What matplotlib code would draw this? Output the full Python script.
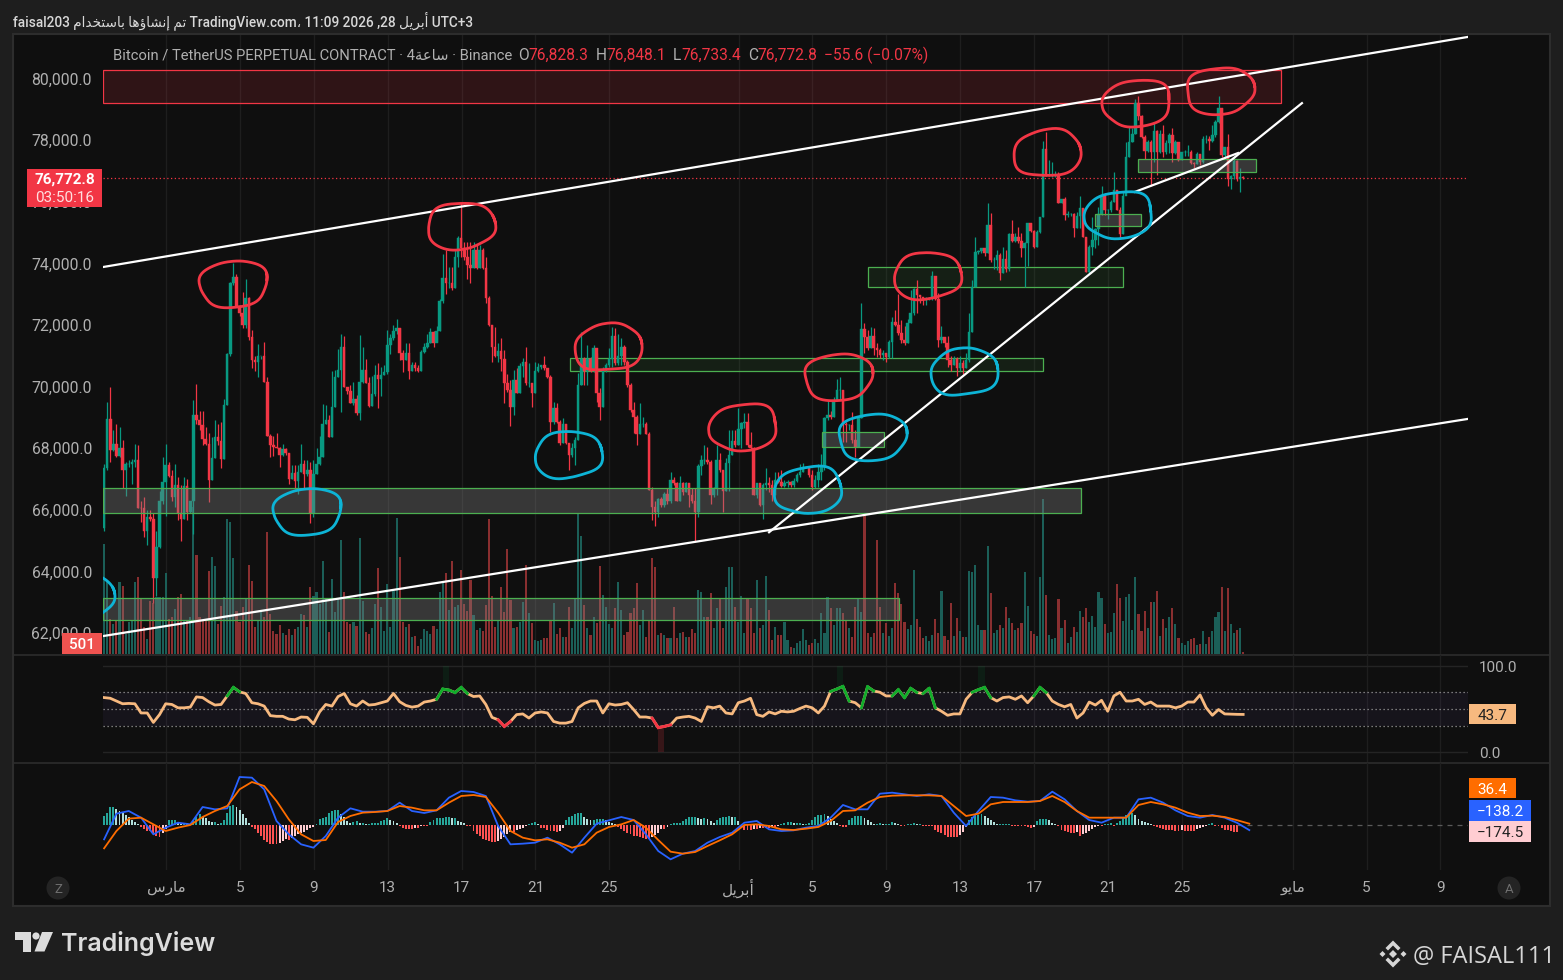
"""BTCUSDT.P 4h chart with hand drawn trend lines, zones and circles, RSI and MACD panes."""
import numpy as np
import matplotlib
matplotlib.use("Agg")
from matplotlib import pyplot as plt
from matplotlib.patches import Rectangle, Polygon, Circle

plt.rcParams["font.family"] = ["Roboto", "DejaVu Sans"]

BG, OUTER, FRAME, GRID = "#0f0f0f", "#1e1e1e", "#2d2d2d", "#1e1e1e"
UP_C, DOWN_C = "#089981", "#f23645"
VOL_UP_C, VOL_DOWN_C = "#1b5f58", "#8a2f30"
TEXT_C = "#b0b0b0"
W, H = 1563, 980

# ---- price, thousands of USDT per 4h bar ----
first_open = 65.4
closes = [
    67.34,68.96,67.93,68.15,67.74,68.0,67.3,67.5,67.5,67.55,
    67.6,66.06,66.05,65.32,65.77,65.7,63.77,64.78,66.3,
    66.9,67.45,67.1,66.4,66.8,65.9,65.7,66.76,65.93,66.3,
    69.07,68.9,68.75,68.3,68.15,66.96,67.67,68.37,68.24,67.64,
    69.4,71.05,73.36,73.55,72.6,72.4,72.0,72.87,71.6,70.85,
    70.8,71.0,71.0,70.15,68.4,68.1,68.05,68.02,67.77,67.97,
    67.83,67.0,67.2,66.94,67.24,67.48,67.15,67.28,65.9,67.15,
    67.47,67.7,68.8,68.93,68.35,69.34,70.3,70.55,71.27,69.97,
    69.85,69.45,69.58,69.13,70.15,70.55,70.12,69.36,69.75,70.37,
    70.23,70.37,70.48,71.34,71.56,71.8,71.9,71.09,70.86,71.1,
    70.5,70.7,70.6,70.5,71.13,71.27,71.4,71.77,71.4,71.8,72.77,
    73.52,73.35,73.35,73.2,74.2,74.82,74.5,74.2,73.95,73.85,
    74.43,73.85,74.43,73.85,72.87,72.0,
    71.3,71.0,71.17,70.9,70.1,69.9,69.35,70.2,69.8,70.67,
    70.8,70.1,70.1,69.8,70.5,70.65,70.7,70.6,70.32,
    68.86,69.3,68.86,68.16,68.8,68.16,67.78,68.0,68.27,70.05,
    70.9,70.5,70.9,70.5,71.24,69.8,69.33,70.54,70.7,
    70.9,71.64,70.76,71.0,71.3,70.8,70.05,69.24,69.02,68.46,
    68.78,68.78,68.46,66.64,66.08,65.94,66.34,66.15,66.5,66.27,
    66.97,66.86,66.3,66.86,66.59,66.86,66.48,66.3,65.94,67.42,
    67.6,67.63,67.56,66.48,66.7,67.63,67.3,66.62,67.53,67.78,
    68.24,68.1,68.61,68.83,68.86,68.1,68.0,66.48,66.86,66.16,
    66.8,66.86,66.8,66.48,66.96,66.9,66.77,66.86,66.9,66.8,
    66.95,67.13,67.24,67.4,67.4,67.13,66.73,66.97,67.24,67.4,
    68.97,69.08,69.0,69.56,69.9,69.9,68.8,68.74,68.74,68.27,
    68.05,68.97,71.86,
    71.62,71.24,71.64,71.24,71.2,71.02,71.08,70.97,71.46,72.1,
    72.0,71.73,71.5,71.4,72.05,72.38,73.16,72.97,72.9,72.8,
    72.86,72.86,73.6,72.83,71.5,71.62,71.4,70.86,70.7,70.9,
    70.6,70.75,70.6,70.85,71.78,73.24,74.38,74.4,74.5,74.33,
    75.25,74.1,74.1,74.27,73.68,74.13,73.8,74.95,74.72,74.87,
    74.72,74.5,74.65,75.3,75.06,74.54,75.03,75.5,77.7,76.85,
    76.85,76.85,76.85,75.97,76.08,75.57,75.6,75.6,75.16,75.54,
    75.8,74.87,73.73,74.54,74.76,75.1,75.6,76.2,75.73,75.73,
    76.0,76.38,75.73,74.95,76.2,77.46,77.95,78.2,79.2,78.78,
    78.1,77.66,77.95,77.6,78.3,77.62,78.2,77.62,77.9,78.17,
    77.57,77.95,77.35,77.6,77.6,77.6,77.25,77.22,77.55,77.3,
    78.03,78.03,77.97,78.17,78.6,79.03,77.52,77.77,76.73,76.83,
    77.33,76.73,76.8,76.77,
]
highs = [
    67.5,69.5,70.0,68.6,68.8,68.7,68.26,67.55,67.6,67.65,
    68.15,68.1,66.3,66.4,66.0,66.0,65.9,65.3,66.6,
    67.7,68.15,67.55,67.3,67.5,67.05,66.8,67.07,67.0,66.3,
    69.56,70.07,69.2,69.2,68.7,68.5,68.37,68.93,68.8,68.85,
    69.6,71.1,73.4,74.02,73.65,72.65,73.06,73.5,72.9,71.83,
    71.0,71.37,71.0,71.45,70.3,68.45,68.4,68.5,68.05,68.15,
    68.0,67.85,67.45,67.45,67.45,68.15,67.6,67.6,67.55,67.6,
    68.0,68.4,69.43,69.4,69.07,70.5,70.53,71.23,71.7,71.64,
    69.97,70.05,70.15,69.72,71.67,71.3,70.9,70.3,70.35,70.7,
    70.75,70.64,70.7,71.85,71.7,72.0,72.2,71.9,71.2,71.4,
    71.4,70.8,70.8,70.7,71.2,71.4,71.7,71.9,71.8,71.95,72.85,
    74.3,74.43,73.88,73.88,74.43,74.9,76.0,74.7,74.7,74.7,
    74.7,74.6,74.6,74.5,74.2,72.95,
    72.0,71.94,71.4,71.57,71.2,70.4,70.2,70.54,70.6,70.75,
    70.92,71.3,70.75,70.1,70.8,70.75,70.7,71.0,70.6,
    70.37,69.5,69.45,68.9,68.97,68.8,68.16,68.16,68.37,70.43,
    71.78,70.97,71.35,70.97,71.35,71.1,69.94,70.65,70.75,
    71.24,71.94,71.9,71.7,71.56,71.35,70.85,70.1,69.5,69.07,
    69.45,69.02,68.86,68.54,66.75,66.3,66.37,66.42,66.59,66.7,
    67.24,67.07,66.91,67.1,66.91,66.91,66.86,66.7,66.7,67.5,
    67.78,68.1,68.05,67.6,66.75,68.1,67.83,67.3,67.67,68.6,
    68.6,68.6,69.3,68.86,69.13,69.13,68.54,68.05,66.86,66.86,
    66.86,67.35,67.07,66.97,67.24,67.24,67.3,66.97,66.97,66.95,
    67.02,67.18,67.5,67.53,67.4,67.4,67.3,67.13,67.5,67.8,
    69.02,69.56,69.2,69.67,70.24,70.3,69.9,68.86,68.8,69.18,
    68.6,68.97,72.7,
    72.05,71.85,71.94,71.9,71.4,71.24,71.2,71.1,71.5,72.27,
    72.5,73.0,72.15,71.95,72.2,73.13,73.2,73.46,72.97,72.9,
    72.9,72.92,73.76,73.6,73.03,71.95,71.62,71.63,71.0,71.0,
    70.95,71.0,70.85,71.1,72.38,73.46,74.87,74.43,74.5,74.5,
    75.97,75.64,74.2,74.43,74.35,74.54,74.43,75.0,75.4,75.0,
    75.19,75.0,74.7,75.32,75.3,75.08,75.08,75.5,77.97,78.27,
    77.35,77.3,77.0,76.98,76.1,76.16,75.7,75.62,75.62,75.68,
    76.18,75.8,74.87,74.6,75.5,75.15,75.84,76.5,76.27,75.75,
    76.05,76.97,76.38,75.84,76.32,77.95,78.44,78.38,79.35,79.43,
    78.82,78.17,78.0,78.0,78.6,78.33,78.33,78.5,78.0,78.22,
    78.38,78.0,77.68,77.62,77.68,77.84,77.68,77.3,77.6,77.55,
    78.12,78.17,78.12,78.5,78.65,79.43,79.05,77.79,78.2,76.87,
    77.46,77.35,77.1,76.85,
]
lows = [
    65.3,67.3,67.55,67.9,67.7,67.7,66.7,66.45,67.4,66.85,
    67.4,66.05,65.6,65.1,64.85,65.65,62.96,63.2,64.75,
    66.2,65.8,67.05,66.3,66.1,65.66,65.0,65.7,65.66,65.9,
    65.2,68.8,68.6,68.1,68.1,66.26,66.96,67.67,68.1,67.34,
    67.64,69.4,71.0,73.3,72.58,72.3,71.9,71.9,71.5,70.6,
    70.5,70.3,70.9,70.15,68.4,67.7,67.75,68.0,67.4,67.75,
    67.77,66.83,67.0,66.66,66.5,67.24,66.7,67.1,65.58,65.77,
    67.15,67.45,67.7,68.8,68.35,68.35,69.34,70.3,69.18,69.97,
    69.75,69.45,69.4,69.07,68.9,70.1,70.1,69.33,69.36,69.7,
    69.3,69.7,70.37,70.42,71.07,71.5,71.7,70.85,70.48,70.86,
    70.26,70.5,70.5,70.48,70.5,71.1,71.25,71.4,71.3,71.45,71.8,
    72.7,73.0,73.2,73.13,73.2,73.87,74.2,74.1,73.5,73.36,
    73.85,73.8,73.85,73.8,72.7,71.95,
    70.8,70.97,70.8,70.5,69.45,69.83,68.72,69.08,69.78,69.8,
    70.32,70.05,70.0,69.35,69.78,70.48,70.58,70.55,70.27,
    68.54,68.8,68.83,68.1,68.16,68.13,67.3,67.7,67.45,68.27,
    70.05,70.05,70.05,70.48,70.48,69.5,68.9,69.33,70.48,
    70.65,70.65,70.7,70.7,70.7,70.7,69.99,69.18,68.5,68.1,
    68.46,68.7,68.46,66.64,65.67,65.48,65.78,66.1,66.1,66.2,
    66.21,66.8,66.27,66.27,66.48,66.59,66.1,66.21,64.97,65.78,
    67.13,67.5,67.5,66.2,66.43,66.48,67.24,65.94,66.62,66.62,
    67.78,68.05,68.1,68.0,68.65,68.05,67.94,66.48,66.37,66.12,
    65.7,66.64,66.59,66.3,66.48,66.86,66.75,66.75,66.75,66.75,
    66.75,66.9,67.07,67.24,67.35,67.07,66.64,66.7,66.75,66.97,
    67.3,68.9,68.95,69.0,69.56,69.56,68.2,68.2,68.6,68.16,
    67.72,68.05,68.97,
    71.08,71.2,71.24,71.02,70.97,70.92,70.85,70.8,70.92,70.92,
    71.95,71.67,71.4,71.35,71.4,72.05,72.32,72.38,72.7,72.65,
    72.65,72.8,72.8,72.8,71.3,71.4,71.3,70.65,70.5,70.7,
    70.35,70.5,70.4,70.6,70.8,71.78,73.24,74.3,74.35,74.25,
    74.33,74.05,73.8,73.78,73.46,73.68,73.73,73.76,74.7,74.7,
    74.65,74.2,73.24,73.9,75.03,74.49,74.52,75.0,75.5,76.82,
    76.83,76.8,76.8,75.95,75.95,75.4,75.5,75.55,74.87,75.14,
    75.14,74.87,73.73,73.67,74.27,74.5,74.6,75.57,75.57,75.43,
    75.67,76.0,75.73,74.78,74.95,76.32,77.46,77.95,78.2,78.65,
    78.06,77.4,77.62,76.5,77.3,76.87,77.57,77.46,77.55,77.57,
    77.3,77.55,77.33,77.35,77.5,77.5,77.22,77.1,77.22,77.2,
    77.25,77.9,77.68,77.95,78.1,78.55,77.46,77.4,76.5,76.4,
    76.75,76.68,76.33,76.73,
]
# volume, in units of 250 contracts
volumes = [
    110,72,35,30,33,72,68,20,32,33,72,77,55,27,15,53,51,57,57,57,81,35,37,45,57,60,34,33,37,147,
    99,37,33,35,83,97,88,30,48,57,135,132,96,43,32,47,55,89,73,27,33,42,37,122,40,23,20,29,21,19,
    25,19,25,27,40,39,27,67,58,62,50,93,55,22,75,42,55,114,62,32,30,32,28,116,53,22,20,26,50,86,
    47,23,70,27,63,136,97,32,27,30,17,18,8,15,25,23,20,28,25,62,71,81,44,93,47,49,84,50,43,74,
    39,24,26,23,49,135,58,27,33,
    67,42,105,54,26,27,32,52,89,41,31,14,13,14,16,16,34,51,20,26,17,17,47,26,56,141,118,49,26,19,
    37,31,88,59,47,30,26,46,72,44,19,22,41,46,71,29,44,17,33,96,87,19,21,19,16,16,47,16,21,22,
    17,17,25,21,64,62,37,37,61,26,46,56,26,67,87,87,47,32,58,21,56,46,21,74,26,29,78,44,14,27,
    19,19,32,14,7,6,11,13,25,14,9,11,15,11,41,21,57,46,29,46,46,41,34,26,17,47,55,42,141,21,
    17,21,114,47,21,31,
    18,26,71,61,50,32,25,29,84,35,27,16,18,13,19,35,21,63,18,14,51,18,36,23,17,17,83,82,89,29,
    24,24,108,61,21,24,29,26,47,36,31,24,26,31,82,48,23,20,18,77,155,59,19,15,16,55,26,34,11,17,
    27,22,43,37,46,32,38,27,62,56,30,21,22,41,70,56,33,57,60,24,77,40,23,43,26,52,52,63,18,35,
    26,37,46,30,16,11,9,13,15,16,9,10,23,10,17,23,37,42,67,23,66,30,21,24,26,2,
]
# RSI, one reading every second bar
rsi_values = [
    63.3,62.5,59.3,56.1,56.5,56.1,45.4,45.4,34.4,43.5,56.1,55.3,51.4,51.4,52.2,64.1,63.3,58.5,54.6,55.3,
    65.2,75.1,70,68,57.3,56.1,53.4,42.3,41.5,41.5,38.3,37.5,40.7,40.3,32.8,46.6,55.3,53.4,64.5,68,
    56.1,53.4,59.3,54.6,55.3,57.3,59.3,68,58.5,54.2,52.2,53.4,58.1,59.3,61.3,73.2,72,69.2,75.1,68,
    64.5,65.2,55.3,40.3,37.5,29.8,35.5,43.5,44.3,39.5,45.4,46.6,45.4,35.5,33.6,33.6,35.5,51.4,56.5,59.3,
    59.3,45.4,56.1,54.6,55.3,57.3,49.4,40.7,40.7,39.5,28.4,29.8,31.6,39.5,40.7,41.5,39.5,35.5,52.6,51.4,
    53.4,45.4,44.3,57.3,59.3,62.5,43.5,41.5,46.6,44.3,47.4,46.6,47.4,50.6,53.4,51.4,45.4,53.4,70.4,73.2,
    76.3,59.3,57.3,51.4,75.9,71,69.5,65.2,65.2,72.5,63.3,74,69.2,68,74,51.4,47.4,42.7,44.3,44.3,
    61.3,69.5,72.5,75.1,63.3,59.3,63.3,64.1,61.3,65.2,57.3,65.2,75.1,69.2,59.3,55.3,52.6,55.3,39.5,45.4,
    58.1,54.6,60.1,47.4,65.2,69.5,59.3,59.3,61.3,55.3,58.1,53.4,53.4,53.4,51.4,53.4,58.1,58.1,66.4,51.4,
    42.7,49.4,44.3,44.0,43.8,43.7,
]
# MACD line and signal, one reading every fourth bar
macd_line = [
    -387,306,378,198,-252,-72,63,18,486,423,450,1296,1278,963,108,-252,-522,-612,-297,198,
    450,360,360,378,603,378,324,396,738,918,891,783,-27,-522,-504,-477,-342,-522,-747,-342,
    36,126,216,135,-252,-702,-927,-774,-702,-477,-324,-207,63,108,-117,-162,-144,-72,-27,198,
    540,423,423,846,873,828,783,828,783,333,-27,378,756,738,666,630,648,900,693,378,
    135,63,198,198,693,738,603,396,243,198,270,198,60,-138,
]
macd_signal = [
    -630,-162,171,198,18,-162,-72,0,216,378,513,963,1161,1053,648,153,-252,-432,-405,81,
    243,333,351,378,513,468,396,396,603,783,810,756,333,-162,-342,-414,-387,-477,-612,-522,
    -207,-54,18,135,-72,-405,-720,-774,-729,-567,-414,-252,0,18,-27,-117,-135,-99,-54,108,
    378,396,603,756,792,801,801,801,783,513,243,306,558,621,621,621,648,783,621,378,
    198,198,198,198,540,621,558,468,333,243,252,216,130,36,
]
# MACD histogram, in units of 27 points
macd_hist = [
    9,12,18,18,16,14,12,10,8,5,3,1,-2,-4,-6,-6,-9,-11,-12,-8,-4,5,5,5,3,1,1,2,1,5,
    8,11,8,7,4,3,3,1,2,5,12,19,20,18,15,11,7,2,-2,-4,-8,-11,-15,-17,-19,-19,-19,-18,-16,-14,
    -15,-13,-11,-9,-8,-7,-5,-3,-2,1,6,7,8,12,14,15,15,11,8,4,2,3,4,2,2,1,1,2,2,2,
    4,5,7,5,4,2,-1,-3,-4,-4,-4,-3,-3,-1,-1,-1,3,5,7,7,7,8,8,7,7,4,3,2,-1,-1,
    -6,-9,-11,-14,-15,-16,-17,-17,-16,-14,-12,-9,-7,-7,-5,-4,-3,-1,1,2,3,1,-3,-3,-5,-6,-6,-7,-6,-3,
    5,8,9,11,12,12,8,6,5,5,6,6,6,
    5,3,2,1,-2,-4,-6,-8,-9,-11,-11,-12,-13,-14,-14,-12,-10,-8,-4,-4,-2,1,2,2,2,4,6,8,8,8,
    7,6,7,6,4,2,5,7,8,8,9,8,8,4,-3,-5,-5,-5,-4,-4,-3,-3,-3,-3,-2,-2,-1,1,2,3,
    3,2,2,2,1,1,2,5,8,10,10,11,9,6,4,2,-1,-2,-2,5,7,9,9,9,7,5,3,1,1,2,
    1,1,1,3,2,1,-1,-1,1,1,2,1,1,-1,-1,-1,-1,-5,-7,-8,-10,-12,-12,-12,-12,-10,-7,-2,5,8,10,10,11,
    9,7,5,3,1,1,1,1,1,-1,-1,-1,-1,-1,-2,-3,-2,4,6,6,6,5,2,1,-1,-5,-6,-7,-8,-8,
    -7,-11,-9,-8,-6,-4,-2,-1,-1,1,1,2,-1,2,4,8,10,12,12,10,6,4,3,2,1,-1,-2,-3,-4,-5,
    -5,-5,-6,-6,-5,-6,-6,-6,-6,-4,-3,-2,-1,1,2,-1,-1,-3,-5,-5,-6,-7,-7,
]

price_ticks = [62000, 64000, 66000, 68000, 70000, 72000, 74000, 76000, 78000, 80000]
time_ticks = [0, 4, 8, 12, 16, 20, 24, 31, 35, 39, 43, 47, 51, 55, 61, 65, 69]

# ---- drawings on the price pane, (day from 1 March, price) ----
trend_lines = [
    ((-3.41, 73880), (70.49, 81350)),
    ((-3.41, 61900), (70.49, 68950)),
    ((32.65, 65270), (61.5, 79200)),
    ((52.46, 76320), (58.04, 77580)),
]
red_zone = (-3.41, 60.37, 79200, 80260)
grey_zones = [
    (-3.41, 49.54, 65910, 66700),
    (35.52, 38.87, 68040, 68520),
    (50.3, 52.79, 75210, 75600),
    (52.63, 59.01, 76980, 77390),
    (-3.41, 39.69, 62420, 63130),
]
green_zones = [
    (21.87, 47.48, 70500, 70930),
    (38.0, 51.81, 73230, 73880),
]
red_circles = [
    (3.66, 73330), (15.97, 75210), (23.96, 71270), (31.27, 68680), (36.41, 70310),
    (41.23, 73590), (47.73, 77580), (52.57, 79200), (57.06, 79600),
]
blue_circles = [
    (7.66, 65940), (21.79, 67780), (34.79, 66640), (38.25, 68360), (43.23, 70470),
    (51.6, 75570), (-4.66, 63160),
]

LAST_CLOSE = 76772.8
FIRST_DAY, BAR_DAYS = -3.35, 1 / 6
DAY_PX, USD_PX = 18.47, 30.8 / 1000
RSI_HOT = 72

AR_FORMS = {
    "م": "\ufee1\ufee2\ufee3\ufee4", "ا": "\ufe8d\ufe8e", "ر": "\ufead\ufeae",
    "س": "\ufeb1\ufeb2\ufeb3\ufeb4", "أ": "\ufe83\ufe84", "ب": "\ufe8f\ufe90\ufe91\ufe92",
    "ي": "\ufef1\ufef2\ufef3\ufef4", "ل": "\ufedd\ufede\ufedf\ufee0", "و": "\ufeed\ufeee",
    "ع": "\ufec9\ufeca\ufecb\ufecc", "ة": "\ufe93\ufe94", "ت": "\ufe95\ufe96\ufe97\ufe98",
    "إ": "\ufe87\ufe88", "ن": "\ufee5\ufee6\ufee7\ufee8", "ش": "\ufeb5\ufeb6\ufeb7\ufeb8",
    "ؤ": "\ufe85\ufe86", "ه": "\ufee9\ufeea\ufeeb\ufeec", "خ": "\ufea5\ufea6\ufea7\ufea8",
    "د": "\ufea9\ufeaa",
}


def ar(word):
    """matplotlib has no Arabic shaping: pick the joined glyphs and lay them out left to right."""
    out = []
    for i, ch in enumerate(word):
        forms = AR_FORMS[ch]
        joins_prev = i > 0 and len(AR_FORMS[word[i - 1]]) == 4
        joins_next = i < len(word) - 1 and len(forms) == 4
        out.append(forms[(1 if joins_prev else 0) + (2 if joins_next else 0)])
    return "".join(reversed(out))


def pane(y0, y1):
    ax = fig.add_axes([103 / W, 1 - y1 / H, (1468 - 103) / W, (y1 - y0) / H])
    ax.patch.set_visible(False)
    ax.set_xlim(-3.41, 70.49)
    ax.set_xticks(time_ticks)
    ax.tick_params(length=0, labelbottom=False, colors=TEXT_C)
    ax.grid(True, color=GRID, lw=1)
    ax.set_axisbelow(True)
    for s in ax.spines.values():
        s.set_visible(False)
    return ax


def hand_loop(ax, day, price, color, phase):
    # freehand loop, tilted and a little lumpy like the drawn ones
    t = np.linspace(0, 2.08 * np.pi, 140)
    wob = 1 + 0.035 * np.sin(3 * t + phase) + 0.02 * np.sin(5 * t + 2 * phase)
    u = 33.5 * wob * np.sign(np.cos(t)) * np.abs(np.cos(t)) ** 0.85
    v = 23 * wob * np.sign(np.sin(t)) * np.abs(np.sin(t)) ** 0.85
    a = np.radians(6)
    ax.plot(day + (u * np.cos(a) - v * np.sin(a)) / DAY_PX,
            price + (u * np.sin(a) + v * np.cos(a)) / USD_PX,
            color=color, lw=2, solid_capstyle="round", zorder=6)


def tag(x0, y0, x1, y1, color, text, text_color, **kw):
    ov.add_patch(Rectangle((x0, y0), x1 - x0, y1 - y0, fc=color, ec="none"))
    ov.text((x0 + x1) / 2, (y0 + y1) / 2, text, color=text_color, ha="center", va="center_baseline",
            fontsize=kw.pop("fontsize", 11), **kw)


fig = plt.figure(figsize=(W / 100, H / 100), dpi=100, facecolor=OUTER)

under = fig.add_axes([0, 0, 1, 1], zorder=0)
under.set_xlim(0, W); under.set_ylim(H, 0); under.axis("off")
under.add_patch(Rectangle((12.5, 34.5), 1537, 871, fc=BG, ec=FRAME, lw=1.5))
under.plot([13, 1550], [654.5, 654.5], color=FRAME, lw=1.2)
under.plot([13, 1550], [762.5, 762.5], color=FRAME, lw=1.2)

# ---- candles and volume ----
closes_usd = np.array(closes) * 1000
highs_usd = np.array(highs) * 1000
lows_usd = np.array(lows) * 1000
opens_usd = np.r_[first_open * 1000, closes_usd[:-1]]
bar_x = FIRST_DAY + np.arange(len(closes_usd)) * BAR_DAYS
is_up = closes_usd >= opens_usd
candle_colors = np.where(is_up, UP_C, DOWN_C)

ax_vol = pane(35, 654)
ax_vol.set_zorder(1)
ax_vol.set_ylim(0, 619 * 250)
ax_vol.set_yticks([])
vol = np.array(volumes) * 250
vol_x = FIRST_DAY + np.arange(len(vol)) * BAR_DAYS
vol_up = np.r_[is_up, np.zeros(max(0, len(vol) - len(is_up)), dtype=bool)][:len(vol)]
ax_vol.bar(vol_x, vol, width=0.115, color=np.where(vol_up, VOL_UP_C, VOL_DOWN_C), linewidth=0)

ax = pane(35, 654)
ax.set_zorder(2)
ax.set_ylim(61318, 81412)
ax.set_yticks(price_ticks)
ax.set_yticklabels([f"{p:,.0f}.0" for p in price_ticks], fontsize=11.3, color=TEXT_C)
ax.tick_params(axis="y", pad=8)
ax.grid(False)

ax.vlines(bar_x, lows_usd, highs_usd, colors=candle_colors, lw=0.9, zorder=3)
ax.bar(bar_x, closes_usd - opens_usd, bottom=opens_usd, width=0.135, color=candle_colors,
       edgecolor=candle_colors, linewidth=0.3, zorder=3)

ax.axhline(LAST_CLOSE, color=DOWN_C, lw=0.9, ls=(0, (1, 2)), zorder=2)

for d0, d1, p0, p1 in grey_zones:
    ax.add_patch(Rectangle((d0, p0), d1 - d0, p1 - p0, fc=(0.5, 0.5, 0.5, 0.36), ec="#4caf50", lw=0.9, zorder=4))
for d0, d1, p0, p1 in green_zones:
    ax.add_patch(Rectangle((d0, p0), d1 - d0, p1 - p0, fc=(0.3, 0.69, 0.31, 0.1), ec="#4caf50", lw=0.9, zorder=2))
d0, d1, p0, p1 = red_zone
ax.add_patch(Rectangle((d0, p0), d1 - d0, p1 - p0, fc=(0.95, 0.21, 0.27, 0.14), ec=DOWN_C, lw=0.9, zorder=2))

for (d0, p0), (d1, p1) in trend_lines:
    ax.plot([d0, d1], [p0, p1], color="white", lw=1.6, zorder=5)
for n, (day, price) in enumerate(red_circles):
    hand_loop(ax, day, price, DOWN_C, n * 1.7)
for n, (day, price) in enumerate(blue_circles):
    hand_loop(ax, day, price, "#0db4d6", n * 2.3)

# ---- RSI ----
ax_rsi = pane(655, 762)
ax_rsi.set_zorder(2)
ax_rsi.set_ylim(-11.6, 112.8)
ax_rsi.yaxis.tick_right()
ax_rsi.set_yticks([0, 100])
ax_rsi.set_yticklabels(["0.0", "100.0"], fontsize=11, color=TEXT_C)
ax_rsi.tick_params(axis="y", pad=8)
ax_rsi.grid(True, axis="y", color="#242424")
rsi = np.array(rsi_values)
rsi_x = FIRST_DAY + np.arange(len(rsi)) * BAR_DAYS * 2
ax_rsi.axhspan(30, 70, xmin=0, xmax=1, color="#7e57c2", alpha=0.07, lw=0)
for lvl in (30, 50, 70):
    ax_rsi.axhline(lvl, color="#9a9a9a", lw=0.9, ls=(0, (1, 2.2)))
ax_rsi.fill_between(rsi_x, 70, 100, where=rsi >= RSI_HOT, color="#00c853", alpha=0.08, lw=0, step="mid")
ax_rsi.fill_between(rsi_x, 0, 30, where=rsi <= 30, color=DOWN_C, alpha=0.18, lw=0, step="mid")
ax_rsi.plot(rsi_x, rsi, color="#f7b97f", lw=2, solid_joinstyle="round", zorder=3)
for i in range(len(rsi) - 1):
    if max(rsi[i], rsi[i + 1]) >= RSI_HOT:
        ax_rsi.plot(rsi_x[i:i + 2], rsi[i:i + 2], color="#10ad2b", lw=2, zorder=4)
    elif min(rsi[i], rsi[i + 1]) <= 30:
        ax_rsi.plot(rsi_x[i:i + 2], rsi[i:i + 2], color=DOWN_C, lw=2, zorder=4)

# ---- MACD ----
ax_macd = pane(763, 870)
ax_macd.set_zorder(2)
ax_macd.set_ylim(-45 * 27, 62 * 27)
ax_macd.set_yticks([])
ax_macd.grid(True, axis="x", color=GRID)
hist = np.array(macd_hist) * 27
hist_x = FIRST_DAY + np.arange(len(hist)) * BAR_DAYS
prev = np.r_[hist[0], hist[:-1]]
hist_colors = [("#26a69a" if h >= p else "#b2dfdb") if h >= 0 else ("#ff5252" if h <= p else "#ffcdd2")
               for h, p in zip(hist, prev)]
ax_macd.bar(hist_x, hist, width=0.105, color=hist_colors, linewidth=0)
ax_macd.hlines(0, hist_x[-1], 70.49, color="#5a5a5a", lw=0.9, ls=(0, (4, 4)))
macd_x = FIRST_DAY + np.arange(len(macd_line)) * BAR_DAYS * 4
ax_macd.plot(macd_x, macd_line, color="#2962ff", lw=1.3)
ax_macd.plot(macd_x, macd_signal, color="#ff6d00", lw=1.3)
ax_macd.set_xticklabels([ar("مارس"), "5", "9", "13", "17", "21", "25", ar("أبريل"), "5", "9",
                         "13", "17", "21", "25", ar("مايو"), "5", "9"], fontsize=11, color=TEXT_C)
ax_macd.tick_params(axis="x", labelbottom=True, pad=12)
for lab in ax_macd.get_xticklabels():
    lab.set_va("center_baseline")

# ---- page furniture in pixel coordinates ----
ov = fig.add_axes([0, 0, 1, 1], zorder=5)
ov.set_xlim(0, W); ov.set_ylim(H, 0); ov.axis("off")

header = (f"faisal203 {ar('باستخدام')} {ar('إنشاؤها')} {ar('تم')} TradingView.com\u060c "
          f"11:09 2026 ,28 {ar('أبريل')} UTC+3")
ov.text(13, 18.5, header, color="#d8d8d8", fontsize=9.8, va="center_baseline", fontweight="medium")

ov.text(113, 53.5, f"Bitcoin / TetherUS PERPETUAL CONTRACT · 4{ar('ساعة')} · Binance",
        color=TEXT_C, fontsize=10.6, va="center_baseline")
for x, s, c in [(518, "O", TEXT_C), (528, "76,828.3", DOWN_C), (596, "H", TEXT_C), (606, "76,848.1", DOWN_C),
                (673, "L", TEXT_C), (681, "76,733.4", DOWN_C), (748, "C", TEXT_C), (757, "76,772.8", DOWN_C),
                (824, "\u221255.6 (\u22120.07%)", DOWN_C)]:
    ov.text(x, 53.5, s, color=c, fontsize=11.2, va="center_baseline")

ov.add_patch(Rectangle((27, 169), 75, 38, fc=DOWN_C, ec="none"))
ov.text(64.5, 178.5, f"{LAST_CLOSE:,.1f}", color="white", fontsize=11, fontweight="bold", ha="center", va="center_baseline")
ov.text(64.5, 196.5, "03:50:16", color="#ffe0e0", fontsize=11, ha="center", va="center_baseline")
tag(62, 633, 102, 654, "#ef5350", "501", "white", fontweight="medium")
tag(1469, 704, 1516, 724, "#f7b97f", f"{rsi_values[-1]:.1f}", "#222222")
tag(1469, 778, 1516, 798, "#ff6d00", "36.4", "white")
tag(1469, 800, 1531, 821, "#2962ff", "\u2212138.2", "white")
tag(1469, 821, 1531, 842, "#ffcdd2", "\u2212174.5", "#222222")

for x, s in [(58, "Z"), (1509, "A")]:
    ov.add_patch(Circle((x, 888), 11.5, fc="#242424", ec="none"))
    ov.text(x, 888, s, color="#6f6f6f", fontsize=9.5, ha="center", va="center_baseline")

# TradingView mark
LOGO_C = "#dcdcdc"
ov.add_patch(Polygon([(15, 932), (31, 932), (31, 951.5), (23, 951.5), (23, 940), (15, 940)], fc=LOGO_C, ec="none"))
ov.add_patch(Circle((36, 936), 3.6, fc=LOGO_C, ec="none"))
ov.add_patch(Polygon([(42, 932), (53, 932), (44.5, 951.5), (34.5, 951.5)], fc=LOGO_C, ec="none"))
ov.text(61, 941, "TradingView", color=LOGO_C, fontsize=18, family="Inter", fontweight="semibold", va="center_baseline")

# Binance mark and user name
MARK_C = "#d6d6d6"
cx, cy = 1393, 954
ov.add_patch(Polygon([(cx, cy - 4), (cx + 4, cy), (cx, cy + 4), (cx - 4, cy)], fc=MARK_C, ec="none"))
for dx in (-10.5, 10.5):
    ov.add_patch(Polygon([(cx + dx, cy - 3), (cx + dx + 3, cy), (cx + dx, cy + 3), (cx + dx - 3, cy)], fc=MARK_C, ec="none"))
ov.add_patch(Polygon([(cx, cy - 13.5), (cx + 7.5, cy - 6), (cx + 5, cy - 3.5), (cx, cy - 8.5), (cx - 5, cy - 3.5), (cx - 7.5, cy - 6)], fc=MARK_C, ec="none"))
ov.add_patch(Polygon([(cx, cy + 13.5), (cx + 7.5, cy + 6), (cx + 5, cy + 3.5), (cx, cy + 8.5), (cx - 5, cy + 3.5), (cx - 7.5, cy + 6)], fc=MARK_C, ec="none"))
ov.text(1413, 954, "@ FAISAL111", color=MARK_C, fontsize=17, family="Open Sans", va="center_baseline")

fig.savefig("out.png", dpi=100, facecolor=OUTER)
